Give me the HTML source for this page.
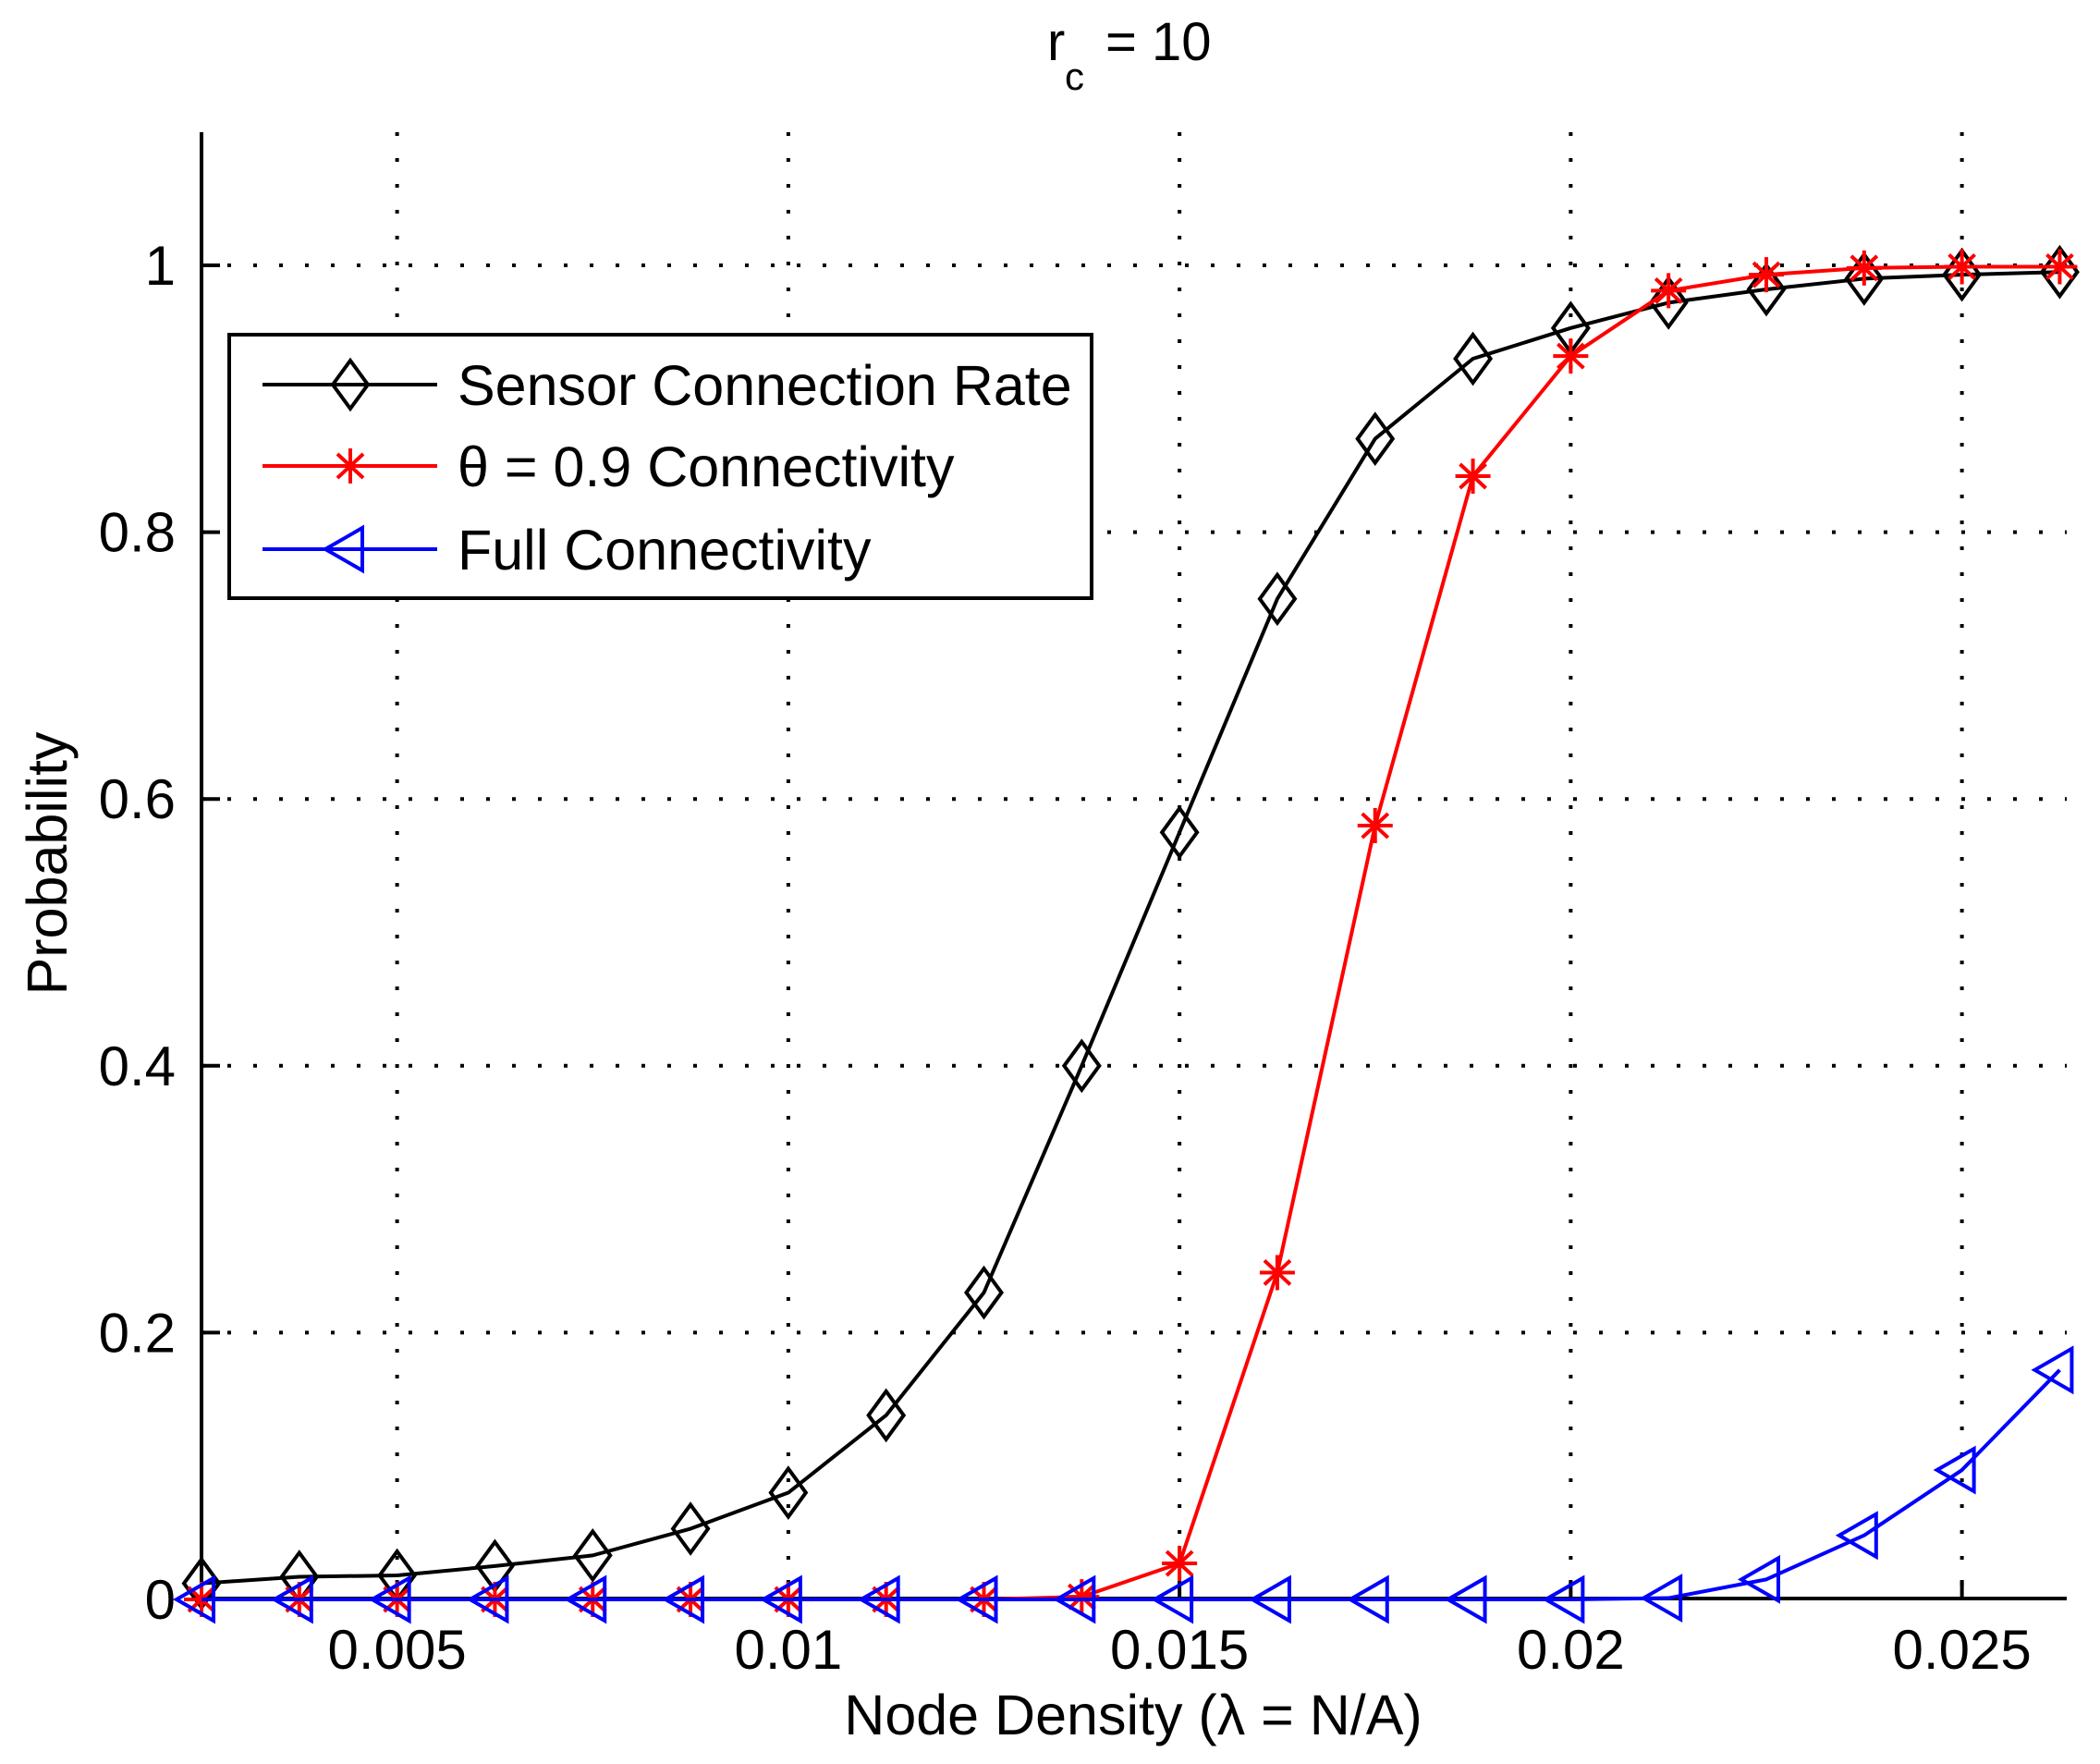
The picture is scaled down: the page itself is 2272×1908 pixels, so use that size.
<!DOCTYPE html>
<html><head><meta charset="utf-8"><style>
html,body{margin:0;padding:0;background:#fff;}
svg{display:block;}
text{font-family:"Liberation Sans",Arial,sans-serif;fill:#000;}
</style></head><body>
<svg id="s" width="2272" height="1908" viewBox="0 0 2272 1908" xmlns="http://www.w3.org/2000/svg">
<rect width="2272" height="1908" fill="#fff"/>
<g id="grid" stroke="#000" stroke-width="4" stroke-dasharray="4 24" fill="none"></g>
<g id="axes" stroke="#000" stroke-width="4" fill="none">
<line x1="218" y1="143" x2="218" y2="1731"/>
<line x1="216" y1="1729" x2="2236" y2="1729"/>
</g>
<g id="ticks" stroke="#000" stroke-width="4"></g>
<g id="labels" font-size="60"></g>
<g id="series"></g>
<text x="1133" y="65" font-size="58">r</text>
<text x="1152" y="97" font-size="42">c</text>
<text x="1196" y="65" font-size="58">= 10</text>
<text x="1226" y="1876" font-size="61" text-anchor="middle">Node Density (λ = N/A)</text>
<text transform="translate(72,934) rotate(-90)" font-size="61" text-anchor="middle">Probability</text>
<g id="legend">
<rect x="248" y="362" width="933" height="285" fill="#fff" stroke="#000" stroke-width="4"/>
<text x="495" y="438" font-size="61">Sensor Connection Rate</text>
<text x="495" y="526" font-size="61">θ = 0.9 Connectivity</text>
<text x="495" y="616" font-size="61">Full Connectivity</text>
</g>
</svg>
<script>
var NS="http://www.w3.org/2000/svg";
function X(v){return 218+(v-0.0025)*84650;}
function Y(v){return 1730-1443*v;}
function el(p,t,a){var e=document.createElementNS(NS,t);for(var k in a)e.setAttribute(k,a[k]);p.appendChild(e);return e;}
var grid=document.getElementById('grid'),ticks=document.getElementById('ticks'),labels=document.getElementById('labels');
[0.005,0.01,0.015,0.02,0.025].forEach(function(v,i){var x=X(v);
 el(grid,'line',{x1:x,y1:143,x2:x,y2:1729});
 el(ticks,'line',{x1:x,y1:1729,x2:x,y2:1709});
 var t=el(labels,'text',{x:x,y:1805,'text-anchor':'middle'});t.textContent=['0.005','0.01','0.015','0.02','0.025'][i];});
[0,0.2,0.4,0.6,0.8,1].forEach(function(v,i){var y=Y(v);
 if(v>0)el(grid,'line',{x1:218,y1:y,x2:2236,y2:y});
 el(ticks,'line',{x1:218,y1:y,x2:238,y2:y});
 var t=el(labels,'text',{x:190,y:y+21,'text-anchor':'end'});t.textContent=['0','0.2','0.4','0.6','0.8','1'][i];});
var xs=[];for(var i=0;i<20;i++)xs.push(0.0025+0.00125*i);
var black=[0.012,0.017,0.018,0.025,0.033,0.053,0.08,0.138,0.23,0.4,0.575,0.75,0.87,0.93,0.953,0.972,0.982,0.99,0.993,0.995];
var red=[0,0,0,0,0,0,0,0,0,0.002,0.027,0.245,0.58,0.842,0.932,0.981,0.993,0.998,0.999,0.999];
var blue=[0,0,0,0,0,0,0,0,0,0,0,0,0,0,0,0.001,0.015,0.048,0.097,0.172];
var S=document.getElementById('series');
var W=4;
function diamond(g,x,y,c){el(g,'polygon',{points:(x-19)+','+y+' '+x+','+(y-26)+' '+(x+19)+','+y+' '+x+','+(y+26),fill:'none',stroke:c,'stroke-width':W});}
function star(g,x,y,c){var d='M'+x+','+(y-19)+'V'+(y+19)+'M'+(x-19)+','+y+'H'+(x+19)+'M'+(x-14)+','+(y-13)+'L'+(x+14)+','+(y+13)+'M'+(x-14)+','+(y+13)+'L'+(x+14)+','+(y-13);el(g,'path',{d:d,fill:'none',stroke:c,'stroke-width':W});}
function tri(g,x,y,c){el(g,'polygon',{points:(x-27)+','+y+' '+(x+13)+','+(y-23)+' '+(x+13)+','+(y+23),fill:'none',stroke:c,'stroke-width':W});}
function series(data,c,mk){var g=el(S,'g',{});var pts=xs.map(function(v,i){return X(v)+','+Y(data[i]);}).join(' ');
 el(g,'polyline',{points:pts,fill:'none',stroke:c,'stroke-width':W,'stroke-linejoin':'round'});
 xs.forEach(function(v,i){mk(g,X(v),Y(data[i]),c);});}
series(black,'#000',diamond);series(red,'#ff0000',star);series(blue,'#0000ff',tri);
var L=document.getElementById('legend');
[[416,'#000',diamond],[504,'#ff0000',star],[594,'#0000ff',tri]].forEach(function(r){
 el(L,'line',{x1:284,y1:r[0],x2:473,y2:r[0],stroke:r[1],'stroke-width':W});
 r[2](L,r[2]===tri?392-13:379,r[0],r[1]);});
</script>
</body></html>
